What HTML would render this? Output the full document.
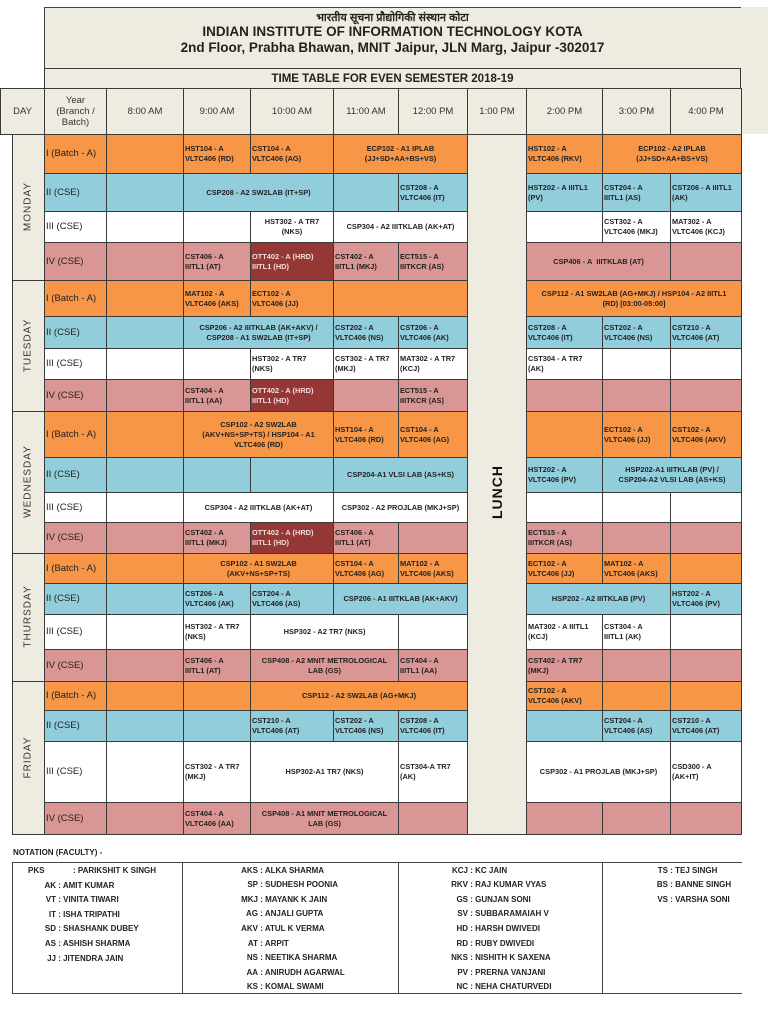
<!DOCTYPE html>
<html><head><meta charset="utf-8">
<style>
body{margin:0;width:768px;height:1024px;background:#fff;position:relative;overflow:hidden;font-family:"Liberation Sans","DejaVu Sans",sans-serif;}
.c{position:absolute;box-sizing:border-box;border:1px solid #3a3a3a;display:flex;align-items:center;font-weight:bold;font-size:7.4px;line-height:10px;color:#222;overflow:hidden;white-space:nowrap;}
.l{justify-content:flex-start;padding-left:1px;text-align:left;}
.m{justify-content:center;text-align:center;}
.or{background:#f79646}.bl{background:#92cddc}.wh{background:#fff}.pk{background:#da9694}.dk{background:#953735;color:#f2dcdb}.bg{background:#eeece1}
.hd{font-weight:normal;font-size:9.5px;color:#333;justify-content:center;text-align:center;line-height:11px}
.yr{font-weight:normal;font-size:9.5px;color:#222;padding-left:1px}
.rot{position:absolute;transform:rotate(-90deg);transform-origin:center;white-space:nowrap;font-size:10px;letter-spacing:1px;color:#333}
.nt{position:absolute;font-size:8px;font-weight:bold;color:#222;white-space:nowrap}
</style></head>
<body>
<div style="position:absolute;left:44px;top:7px;width:724px;height:127px;background:#eeece1"></div>
<div style="position:absolute;left:44px;top:7px;width:697px;height:61px;border-top:1px solid #444;border-left:1px solid #444;box-sizing:border-box"></div>
<div style="position:absolute;left:44px;width:697px;top:10px;text-align:center;font-size:11px;font-weight:bold;color:#222;font-family:'Liberation Sans','Noto Sans CJK SC',sans-serif">भारतीय सूचना प्रौद्योगिकी संस्थान कोटा</div>
<div style="position:absolute;left:44px;width:697px;top:24px;text-align:center;font-size:13.5px;font-weight:bold;color:#222">INDIAN INSTITUTE OF INFORMATION TECHNOLOGY KOTA</div>
<div style="position:absolute;left:44px;width:697px;top:40px;text-align:center;font-size:13.5px;font-weight:bold;color:#222">2nd Floor, Prabha Bhawan, MNIT Jaipur, JLN Marg, Jaipur -302017</div>
<div class="c m" style="left:44px;top:68px;width:697px;height:21px;font-size:11.5px;background:#eeece1">TIME TABLE FOR EVEN SEMESTER 2018-19</div>
<div class="c m bg" style="left:467px;top:133px;width:60px;height:702px"></div>
<div class="rot" style="left:467px;width:60px;top:484px;text-align:center;font-weight:bold;font-size:14px;color:#111">LUNCH</div>
<div class="nt" style="left:13px;top:848px">NOTATION (FACULTY) -</div>
<div style="position:absolute;left:12px;top:862px;width:730px;height:132px;border-top:1.5px solid #444;border-bottom:1.5px solid #444;border-left:1px solid #444;box-sizing:border-box"></div>
<div style="position:absolute;left:182px;top:862px;width:1px;height:131px;background:#444"></div>
<div style="position:absolute;left:398px;top:862px;width:1px;height:131px;background:#444"></div>
<div style="position:absolute;left:602px;top:862px;width:1px;height:131px;background:#444"></div>
<script>
const xs=[44,106,183,250,333,398,467,526,602,670,741];
const ys=[134,173,211,242,280,316,348,379,411,457,492,522,553,583,614,649,681,710,741,802,834];
const times=["8:00 AM","9:00 AM","10:00 AM","11:00 AM","12:00 PM","1:00 PM","2:00 PM","3:00 PM","4:00 PM"];
const days=["MONDAY","TUESDAY","WEDNESDAY","THURSDAY","FRIDAY"];
const years=["I (Batch - A)","II (CSE)","III (CSE)","IV (CSE)"];
const rowColors=["or","bl","wh","pk"];
const cells=[
[0,1,2,"",""],[0,2,3,"HST104 - A<br>VLTC406 (RD)","l"],[0,3,4,"CST104 - A<br>VLTC406 (AG)","l"],[0,4,6,"ECP102 - A1 IPLAB<br>(JJ+SD+AA+BS+VS)","m"],[0,7,8,"HST102 - A<br>VLTC406 (RKV)","l"],[0,8,10,"ECP102 - A2 IPLAB<br>(JJ+SD+AA+BS+VS)","m"],
[1,1,2,"",""],[1,2,4,"CSP208 - A2 SW2LAB (IT+SP)","m"],[1,4,5,"",""],[1,5,6,"CST208 - A<br>VLTC406 (IT)","l"],[1,7,8,"HST202 - A IIITL1<br>(PV)","l"],[1,8,9,"CST204 - A<br>IIITL1 (AS)","l"],[1,9,10,"CST206 - A IIITL1<br>(AK)","l"],
[2,1,2,"",""],[2,2,3,"",""],[2,3,4,"HST302 - A TR7<br>(NKS)","m"],[2,4,6,"CSP304 - A2 IIITKLAB (AK+AT)","m"],[2,7,8,"",""],[2,8,9,"CST302 - A<br>VLTC406 (MKJ)","l"],[2,9,10,"MAT302 - A<br>VLTC406 (KCJ)","l"],
[3,1,2,"",""],[3,2,3,"CST406 - A<br>IIITL1 (AT)","l"],[3,3,4,"OTT402 - A (HRD)<br>IIITL1 (HD)","l","dk"],[3,4,5,"CST402 - A<br>IIITL1 (MKJ)","l"],[3,5,6,"ECT515 - A<br>IIITKCR (AS)","l"],[3,7,9,"CSP406 - A&nbsp; IIITKLAB (AT)","m"],[3,9,10,"",""],
[4,1,2,"",""],[4,2,3,"MAT102 - A<br>VLTC406 (AKS)","l"],[4,3,4,"ECT102 - A<br>VLTC406 (JJ)","l"],[4,4,6,"",""],[4,7,10,"CSP112 - A1 SW2LAB (AG+MKJ) / HSP104 - A2 IIITL1<br>(RD) [03:00-05:00]","m"],
[5,1,2,"",""],[5,2,4,"CSP206 - A2 IIITKLAB (AK+AKV) /<br>CSP208 - A1 SW2LAB (IT+SP)","m"],[5,4,5,"CST202 - A<br>VLTC406 (NS)","l"],[5,5,6,"CST206 - A<br>VLTC406 (AK)","l"],[5,7,8,"CST208 - A<br>VLTC406 (IT)","l"],[5,8,9,"CST202 - A<br>VLTC406 (NS)","l"],[5,9,10,"CST210 - A<br>VLTC406 (AT)","l"],
[6,1,2,"",""],[6,2,3,"",""],[6,3,4,"HST302 - A TR7<br>(NKS)","l"],[6,4,5,"CST302 - A TR7<br>(MKJ)","l"],[6,5,6,"MAT302 - A TR7<br>(KCJ)","l"],[6,7,8,"CST304 - A TR7<br>(AK)","l"],[6,8,9,"",""],[6,9,10,"",""],
[7,1,2,"",""],[7,2,3,"CST404 - A<br>IIITL1 (AA)","l"],[7,3,4,"OTT402 - A (HRD)<br>IIITL1 (HD)","l","dk"],[7,4,5,"",""],[7,5,6,"ECT515 - A<br>IIITKCR (AS)","l"],[7,7,8,"",""],[7,8,9,"",""],[7,9,10,"",""],
[8,1,2,"",""],[8,2,4,"CSP102 - A2 SW2LAB<br>(AKV+NS+SP+TS) / HSP104 - A1<br>VLTC406 (RD)","m"],[8,4,5,"HST104 - A<br>VLTC406 (RD)","l"],[8,5,6,"CST104 - A<br>VLTC406 (AG)","l"],[8,7,8,"",""],[8,8,9,"ECT102 - A<br>VLTC406 (JJ)","l"],[8,9,10,"CST102 - A<br>VLTC406 (AKV)","l"],
[9,1,2,"",""],[9,2,3,"",""],[9,3,4,"",""],[9,4,6,"CSP204-A1 VLSI LAB (AS+KS)","m"],[9,7,8,"HST202 - A<br>VLTC406 (PV)","l"],[9,8,10,"HSP202-A1 IIITKLAB (PV) /<br>CSP204-A2 VLSI LAB (AS+KS)","m"],
[10,1,2,"",""],[10,2,4,"CSP304 - A2 IIITKLAB (AK+AT)","m"],[10,4,6,"CSP302 - A2 PROJLAB (MKJ+SP)","m"],[10,7,8,"",""],[10,8,9,"",""],[10,9,10,"",""],
[11,1,2,"",""],[11,2,3,"CST402 - A<br>IIITL1 (MKJ)","l"],[11,3,4,"OTT402 - A (HRD)<br>IIITL1 (HD)","l","dk"],[11,4,5,"CST406 - A<br>IIITL1 (AT)","l"],[11,5,6,"",""],[11,7,8,"ECT515 - A<br>IIITKCR (AS)","l"],[11,8,9,"",""],[11,9,10,"",""],
[12,1,2,"",""],[12,2,4,"CSP102 - A1 SW2LAB<br>(AKV+NS+SP+TS)","m"],[12,4,5,"CST104 - A<br>VLTC406 (AG)","l"],[12,5,6,"MAT102 - A<br>VLTC406 (AKS)","l"],[12,7,8,"ECT102 - A<br>VLTC406 (JJ)","l"],[12,8,9,"MAT102 - A<br>VLTC406 (AKS)","l"],[12,9,10,"",""],
[13,1,2,"",""],[13,2,3,"CST206 - A<br>VLTC406 (AK)","l"],[13,3,4,"CST204 - A<br>VLTC406 (AS)","l"],[13,4,6,"CSP206 - A1 IIITKLAB (AK+AKV)","m"],[13,7,9,"HSP202 - A2 IIITKLAB (PV)","m"],[13,9,10,"HST202 - A<br>VLTC406 (PV)","l"],
[14,1,2,"",""],[14,2,3,"HST302 - A TR7<br>(NKS)","l"],[14,3,5,"HSP302 - A2 TR7 (NKS)","m"],[14,5,6,"",""],[14,7,8,"MAT302 - A IIITL1<br>(KCJ)","l"],[14,8,9,"CST304 - A<br>IIITL1 (AK)","l"],[14,9,10,"",""],
[15,1,2,"",""],[15,2,3,"CST406 - A<br>IIITL1 (AT)","l"],[15,3,5,"CSP408 - A2 MNIT METROLOGICAL<br>LAB (GS)","m"],[15,5,6,"CST404 - A<br>IIITL1 (AA)","l"],[15,7,8,"CST402 - A TR7<br>(MKJ)","l"],[15,8,9,"",""],[15,9,10,"",""],
[16,1,2,"",""],[16,2,3,"",""],[16,3,6,"CSP112 - A2 SW2LAB (AG+MKJ)","m"],[16,7,8,"CST102 - A<br>VLTC406 (AKV)","l"],[16,8,9,"",""],[16,9,10,"",""],
[17,1,2,"",""],[17,2,3,"",""],[17,3,4,"CST210 - A<br>VLTC406 (AT)","l"],[17,4,5,"CST202 - A<br>VLTC406 (NS)","l"],[17,5,6,"CST208 - A<br>VLTC406 (IT)","l"],[17,7,8,"",""],[17,8,9,"CST204 - A<br>VLTC406 (AS)","l"],[17,9,10,"CST210 - A<br>VLTC406 (AT)","l"],
[18,1,2,"",""],[18,2,3,"CST302 - A TR7<br>(MKJ)","l"],[18,3,5,"HSP302-A1 TR7 (NKS)","m"],[18,5,6,"CST304-A TR7<br>(AK)","l"],[18,7,9,"CSP302 - A1 PROJLAB (MKJ+SP)","m"],[18,9,10,"CSD300 - A<br>(AK+IT)","l"],
[19,1,2,"",""],[19,2,3,"CST404 - A<br>VLTC406 (AA)","l"],[19,3,5,"CSP408 - A1 MNIT METROLOGICAL<br>LAB (GS)","m"],[19,5,6,"",""],[19,7,8,"",""],[19,8,9,"",""],[19,9,10,"",""]
];
const notes1=["AK : AMIT KUMAR","VT : VINITA TIWARI","IT : ISHA TRIPATHI","SD : SHASHANK DUBEY","AS : ASHISH SHARMA","JJ : JITENDRA JAIN"];
const notes2=["AKS : ALKA SHARMA","SP : SUDHESH POONIA","MKJ : MAYANK K JAIN","AG : ANJALI GUPTA","AKV : ATUL K VERMA","AT : ARPIT","NS : NEETIKA SHARMA","AA : ANIRUDH AGARWAL","KS : KOMAL SWAMI"];
const notes3=["KCJ : KC JAIN","RKV : RAJ KUMAR VYAS","GS : GUNJAN SONI","SV : SUBBARAMAIAH V","HD : HARSH DWIVEDI","RD : RUBY DWIVEDI","NKS : NISHITH K SAXENA","PV : PRERNA VANJANI","NC : NEHA CHATURVEDI"];
const notes4=["TS : TEJ SINGH","BS : BANNE SINGH","VS : VARSHA SONI"];

function box(x,y,w,h,cls,html){
  const d=document.createElement('div');
  d.className='c '+cls;
  d.style.left=x+'px';d.style.top=y+'px';d.style.width=(w+1)+'px';d.style.height=(h+1)+'px';
  d.innerHTML=html;
  document.body.appendChild(d);
  return d;
}
let h=box(0,88,44,46,'hd bg','DAY');


h=box(44,88,62,46,'hd bg','Year<br>(Branch /<br>Batch)');


times.forEach((t,i)=>{
  const d=box(xs[i+1],88,xs[i+2]-xs[i+1],46,'hd bg',t);
  
  
});
days.forEach((dn,i)=>{
  const y0=ys[i*4],y1=ys[i*4+4];
  const d=box(12,y0,32,y1-y0,'bg','');
  
  
  const t=document.createElement('div');
  t.className='rot';
  t.style.left='-22px';t.style.width='100px';t.style.textAlign='center';
  t.style.top=((y0+y1)/2-6)+'px';
  t.textContent=dn;
  
  
  document.body.appendChild(t);
});
for(let r=0;r<20;r++){
  const d=box(xs[0],ys[r],xs[1]-xs[0],ys[r+1]-ys[r],'yr '+rowColors[r%4],years[r%4]);
  
  
}
cells.forEach(c=>{
  const [r,a,b,txt,al,col]=c;
  const cls=(al||'l')+' '+(col||rowColors[r%4]);
  const d=box(xs[a],ys[r],xs[b]-xs[a],ys[r+1]-ys[r],cls,txt);
  
  
});
function addText(x,y,w,align,html){
  const d=document.createElement('div');
  d.className='nt';
  d.style.left=x+'px';d.style.top=y+'px';d.style.width=w+'px';d.style.textAlign=align;
  d.innerHTML=html;
  document.body.appendChild(d);
  return d;
}
function notes(arr,cx,start,step){
  arr.forEach((t,i)=>{
    const parts=t.split(' : ');
    const a=addText(cx-60,start+i*step,60,'right',parts[0]);
    
    
    const b=addText(cx,start+i*step,140,'left','&nbsp;: '+parts[1]);
    
    
  });
}
notes(notes1,56,880.5,14.6);
notes(notes2,258,865.5,14.6);
notes(notes3,468,865.5,14.6);
notes(notes4,668,865.5,14.6);
const p=addText(28,865.5,150,'left','PKS<span style="position:absolute;left:45px">: PARIKSHIT K SINGH</span>');


</script>
</body></html>
